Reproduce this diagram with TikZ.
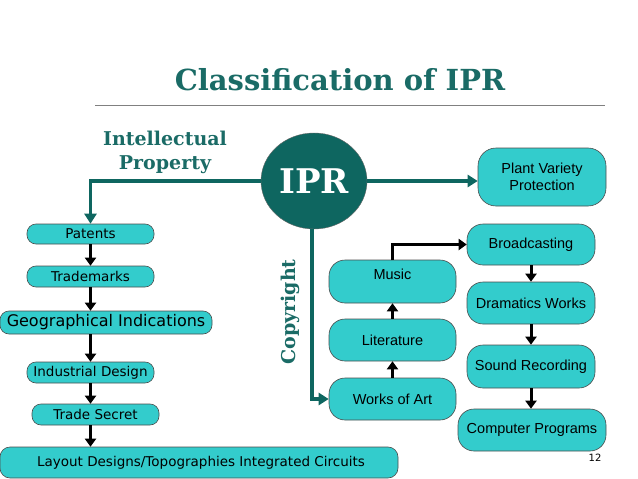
\documentclass[tikz,border=0pt]{standalone}
\usepackage{fontspec}
\setmainfont{Liberation Sans}
\newfontfamily\verd{DejaVu Sans}
\newfontfamily\slab{DejaVu Serif}
\usetikzlibrary{arrows.meta,shapes.geometric}
\definecolor{dteal}{HTML}{0E6660}
\definecolor{lteal}{HTML}{33CCCC}
\definecolor{tteal}{HTML}{1A6B66}
\begin{document}
\begin{tikzpicture}[x=1pt,y=-1pt,
  bx/.style={draw=black!70,fill=lteal,rounded corners=9pt,line width=0.6pt,inner sep=0pt,font=\fontsize{14.5}{17}\selectfont},
  lb/.style={bx,font=\verd\fontsize{13.5}{15}\selectfont},
  tl/.style={dteal,line width=3.5pt,-{Triangle[length=10pt,width=12pt]}},
  bl/.style={black,line width=3pt,-{Triangle[length=8pt,width=11pt]}}]
\useasboundingbox (0,0) rectangle (638,479);
\node (title) at (340,80) {\slab\bfseries\color{tteal}\fontsize{29}{32}\selectfont Classification of IPR};
\draw[gray,line width=0.8pt] (95,105) -- (605,105);
\node[ellipse,draw=black!60,fill=dteal,minimum width=106pt,minimum height=96pt,inner sep=0pt,text=white,font=\slab\bfseries\fontsize{34}{36}\selectfont] (ipr) at (314,181) {IPR};
\node[align=center,text=tteal,font=\slab\bfseries\fontsize{19}{24}\selectfont] (ip) at (165,152) {Intellectual\\Property};
\node[rotate=90,text=tteal,font=\slab\bfseries\fontsize{19}{21}\selectfont] (cr) at (290,312) {Copyright};
% left column
\node[lb,minimum width=127pt,minimum height=20pt] (pat) at (90.5,234) {Patents};
\node[lb,minimum width=127pt,minimum height=21pt] (tm) at (90.5,276.5) {Trademarks};
\node[lb,minimum width=212pt,minimum height=23pt,font=\verd\fontsize{16}{18}\selectfont] (geo) at (106,322.5) {Geographical Indications};
\node[lb,minimum width=127pt,minimum height=21pt] (ind) at (90.5,372.5) {Industrial Design};
\node[lb,minimum width=127pt,minimum height=21pt] (ts) at (95.5,414.5) {Trade Secret};
\node[lb,minimum width=398pt,minimum height=31pt,rounded corners=10pt] (lay) at (199,462.5) {\hspace*{4pt}Layout Designs/Topographies Integrated Circuits};
% right
\node[bx,minimum width=128pt,minimum height=58pt,align=center,rounded corners=18pt] (pv) at (542,177) {Plant Variety\\Protection};
\node[bx,minimum width=127pt,minimum height=42pt,rounded corners=16pt] (woa) at (392.5,399) {Works of Art};
\node[bx,minimum width=127pt,minimum height=42pt,rounded corners=16pt] (lit) at (392.5,340) {Literature};
\node[bx,minimum width=127pt,minimum height=43pt,rounded corners=16pt,text depth=14pt] (mus) at (392.5,281.5) {Music};
\node[bx,minimum width=128pt,minimum height=41pt,rounded corners=16pt] (br) at (531,244.5) {Broadcasting};
\node[bx,minimum width=128pt,minimum height=42pt,rounded corners=16pt] (dw) at (531,303) {Dramatics Works};
\node[bx,minimum width=128pt,minimum height=43pt,rounded corners=16pt] (sr) at (531,366.5) {Sound Recording};
\node[bx,minimum width=148pt,minimum height=42pt,rounded corners=16pt] (cp) at (532,430) {Computer Programs};
\node[font=\verd\fontsize{10}{11}\selectfont] (pg) at (595,458) {12};
% connectors
\draw[tl] (ipr.west) -| (pat.north);
\draw[tl] (ipr.east) -- (ipr.east -| pv.west);
\coordinate (cd) at (312,0);
\draw[tl] (ipr.south -| cd) -- (312,399) -- (woa.west);
\draw[bl] (pat) -- (tm);
\draw[bl] (tm) -- (tm |- geo.north);
\draw[bl] (tm |- geo.south) -- (ind);
\draw[bl] (ind) -- (ind |- ts.north);
\draw[bl] (ind |- ts.south) -- (ind |- lay.north);
\draw[bl] (woa) -- (lit);
\draw[bl] (lit) -- (mus);
\draw[bl,shorten <=-0.5pt] (mus.north) |- (br.west);
\draw[bl] (br) -- (dw);
\draw[bl] (dw) -- (sr);
\draw[bl] (sr) -- (sr |- cp.north);
\end{tikzpicture}
\end{document}
